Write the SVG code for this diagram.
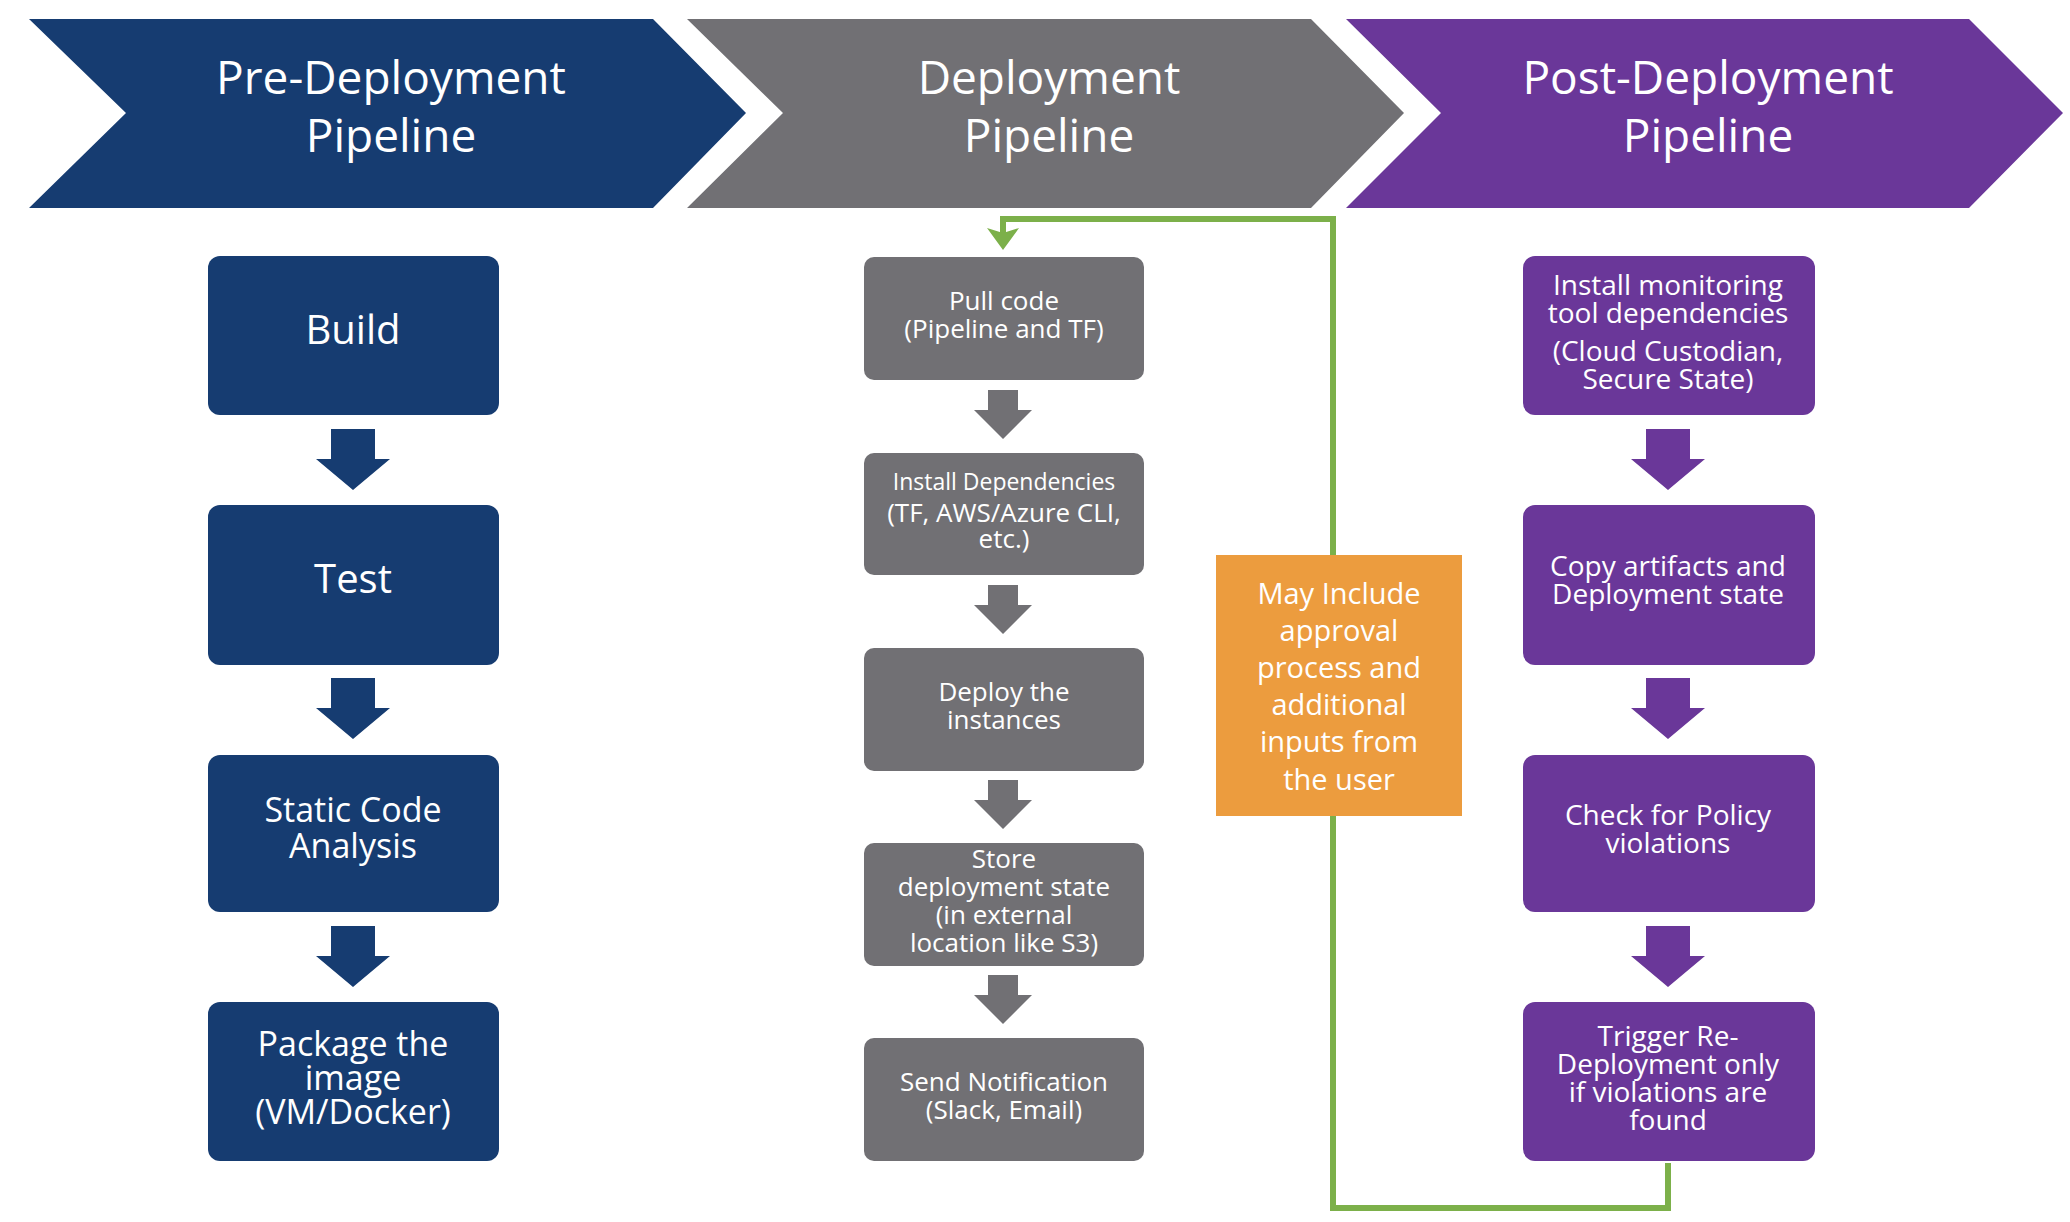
<svg xmlns="http://www.w3.org/2000/svg" width="2070" height="1222" viewBox="0 0 2070 1222">
<style>
text{font-family:"Open Sans","Liberation Sans",sans-serif;fill:#fff;text-anchor:middle}
.h{font-size:46px}
.l{font-size:40px}
.m{font-size:26px}
.p{font-size:28px}
.o{font-size:29px}
.bl{fill:#163c71}.gr{fill:#717074}.pu{fill:#6a3799}
</style>
<rect width="2070" height="1222" fill="#fff"/>
<g id="hdr-pre"><polygon class="bl" points="29,19 653,19 746,113 653,208 29,208 126,113"/><text class="h" x="391" y="94">Pre-Deployment</text><text class="h" x="391" y="152">Pipeline</text></g>
<g id="hdr-dep"><polygon class="gr" points="687,19 1311,19 1404,113 1311,208 687,208 783,113"/><text class="h" x="1049" y="94">Deployment</text><text class="h" x="1049" y="152">Pipeline</text></g>
<g id="hdr-post"><polygon class="pu" points="1346,19 1969,19 2063,113 1969,208 1346,208 1441,113"/><text class="h" x="1708" y="94">Post-Deployment</text><text class="h" x="1708" y="152">Pipeline</text></g>

<g id="build"><rect class="bl" x="208" y="256" width="291" height="159" rx="12"/><text class="l" x="353" y="344">Build</text></g>
<g id="test"><rect class="bl" x="208" y="505" width="291" height="160" rx="12"/><text class="l" x="353" y="593">Test</text></g>
<g id="static"><rect class="bl" x="208" y="755" width="291" height="157" rx="12"/><text style="font-size:34px" x="353" y="822">Static Code</text><text style="font-size:34px" x="353" y="858">Analysis</text></g>
<g id="package"><rect class="bl" x="208" y="1002" width="291" height="159" rx="12"/><text style="font-size:34px" x="353" y="1056">Package the</text><text style="font-size:34px" x="353" y="1090">image</text><text style="font-size:34px" x="353" y="1124">(VM/Docker)</text></g>

<g id="pull"><rect class="gr" x="864" y="257" width="280" height="123" rx="10"/><text class="m" x="1004" y="310">Pull code</text><text class="m" x="1004" y="338">(Pipeline and TF)</text></g>
<g id="install"><rect class="gr" x="864" y="453" width="280" height="122" rx="10"/><text class="m" style="font-size:23px" x="1004" y="490">Install Dependencies</text><text class="m" x="1004" y="522">(TF, AWS/Azure CLI,</text><text class="m" x="1004" y="548">etc.)</text></g>
<g id="deploy"><rect class="gr" x="864" y="648" width="280" height="123" rx="10"/><text class="m" x="1004" y="701">Deploy the</text><text class="m" x="1004" y="729">instances</text></g>
<g id="store"><rect class="gr" x="864" y="843" width="280" height="123" rx="10"/><text class="m" x="1004" y="868">Store</text><text class="m" x="1004" y="896">deployment state</text><text class="m" x="1004" y="924">(in external</text><text class="m" x="1004" y="952">location like S3)</text></g>
<g id="notify"><rect class="gr" x="864" y="1038" width="280" height="123" rx="10"/><text class="m" x="1004" y="1091">Send Notification</text><text class="m" x="1004" y="1119">(Slack, Email)</text></g>

<g id="approval"><rect x="1216" y="555" width="246" height="261" fill="#ec9c3e"/><text class="o" x="1339" y="604">May Include</text><text class="o" x="1339" y="641">approval</text><text class="o" x="1339" y="678">process and</text><text class="o" x="1339" y="715">additional</text><text class="o" x="1339" y="752">inputs from</text><text class="o" x="1339" y="790">the user</text></g>

<g id="monitor"><rect class="pu" x="1523" y="256" width="292" height="159" rx="12"/><text class="p" x="1668" y="295">Install monitoring</text><text class="p" x="1668" y="323">tool dependencies</text><text class="p" x="1668" y="361">(Cloud Custodian,</text><text class="p" x="1668" y="389">Secure State)</text></g>
<g id="copy"><rect class="pu" x="1523" y="505" width="292" height="160" rx="12"/><text class="p" x="1668" y="576">Copy artifacts and</text><text class="p" x="1668" y="604">Deployment state</text></g>
<g id="check"><rect class="pu" x="1523" y="755" width="292" height="157" rx="12"/><text class="p" x="1668" y="825">Check for Policy</text><text class="p" x="1668" y="853">violations</text></g>
<g id="trigger"><rect class="pu" x="1523" y="1002" width="292" height="159" rx="12"/><text class="p" x="1668" y="1046">Trigger Re-</text><text class="p" x="1668" y="1074">Deployment only</text><text class="p" x="1668" y="1102">if violations are</text><text class="p" x="1668" y="1130">found</text></g>

<defs>
<polygon id="ab" points="-22,0 22,0 22,30 37,30 0,61 -37,30 -22,30"/>
<polygon id="ag" points="-15,0 15,0 15,20 29,20 0,49 -29,20 -15,20"/>
</defs>
<g id="connectors">
<use href="#ab" x="353" y="429" class="bl"/><use href="#ab" x="353" y="678" class="bl"/><use href="#ab" x="353" y="926" class="bl"/>
<use href="#ab" x="1668" y="429" class="pu"/><use href="#ab" x="1668" y="678" class="pu"/><use href="#ab" x="1668" y="926" class="pu"/>
<use href="#ag" x="1003" y="390" class="gr"/><use href="#ag" x="1003" y="585" class="gr"/><use href="#ag" x="1003" y="780" class="gr"/><use href="#ag" x="1003" y="975" class="gr"/>
<polyline points="1668,1163 1668,1208 1333,1208 1333,816" fill="none" stroke="#7cb04a" stroke-width="6"/>
<polyline points="1333,555 1333,219 1003,219 1003,240" fill="none" stroke="#7cb04a" stroke-width="6"/>
<polygon points="987,228 1003,233 1019,228 1003,250" fill="#7cb04a"/>
</g>
</svg>
